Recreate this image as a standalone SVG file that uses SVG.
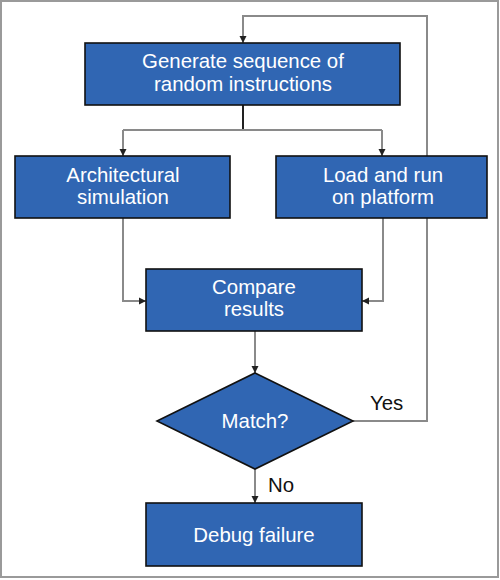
<svg xmlns="http://www.w3.org/2000/svg" width="500" height="580" viewBox="0 0 500 580">
<defs>
<marker id="ah" markerWidth="8" markerHeight="8" refX="7" refY="4" orient="auto" markerUnits="userSpaceOnUse">
<path d="M0,0.5 L7,4 L0,7.5 Z" fill="#222"/>
</marker>
<style>
.box{fill:#3066b3;stroke:#111;stroke-width:1.6}
.t{font-family:"Liberation Sans",Arial,sans-serif;font-size:20.4px;fill:#fff;text-anchor:middle}
.l{font-family:"Liberation Sans",Arial,sans-serif;font-size:20.4px;fill:#111}
.c{fill:none;stroke:#8a8a8a;stroke-width:2}
</style>
</defs>
<rect x="0" y="0" width="500" height="580" fill="#fff"/>
<rect x="1" y="1" width="497" height="576" fill="none" stroke="#9a9a9a" stroke-width="2"/>
<g id="connectors">
<path class="c" d="M243,105 V130" style="stroke:#222"/>
<path class="c" d="M123,130 H382"/>
<path class="c" d="M123,130 V156" marker-end="url(#ah)"/>
<path class="c" d="M382,130 V156" marker-end="url(#ah)"/>
<path class="c" d="M123,218 V301 H146" marker-end="url(#ah)"/>
<path class="c" d="M383,218 V301 H362" marker-end="url(#ah)"/>
<path class="c" d="M255,331 V373" marker-end="url(#ah)"/>
<path class="c" d="M353,421 H427 V16 H243 V43" marker-end="url(#ah)"/>
<path class="c" d="M255,469 V503" marker-end="url(#ah)"/>
<text class="l" x="370" y="410">Yes</text>
<text class="l" x="268" y="492">No</text>
</g>
<g id="generate">
<rect class="box" x="85" y="43" width="315" height="62"/>
<text class="t" x="243" y="68">Generate sequence of</text>
<text class="t" x="243" y="91">random instructions</text>
</g>
<g id="arch">
<rect class="box" x="15" y="156" width="215" height="62"/>
<text class="t" x="123" y="182">Architectural</text>
<text class="t" x="123" y="204">simulation</text>
</g>
<g id="load">
<rect class="box" x="276" y="156" width="211" height="62"/>
<text class="t" x="383" y="182">Load and run</text>
<text class="t" x="383" y="204">on platform</text>
</g>
<g id="compare">
<rect class="box" x="146" y="269" width="216" height="62"/>
<text class="t" x="254" y="294">Compare</text>
<text class="t" x="254" y="316">results</text>
</g>
<g id="match">
<path class="box" d="M255,373 L353,421 L255,469 L157,421 Z"/>
<text class="t" x="255" y="428">Match?</text>
</g>
<g id="debug">
<rect class="box" x="146" y="503" width="216" height="63"/>
<text class="t" x="254" y="542">Debug failure</text>
</g>
</svg>
